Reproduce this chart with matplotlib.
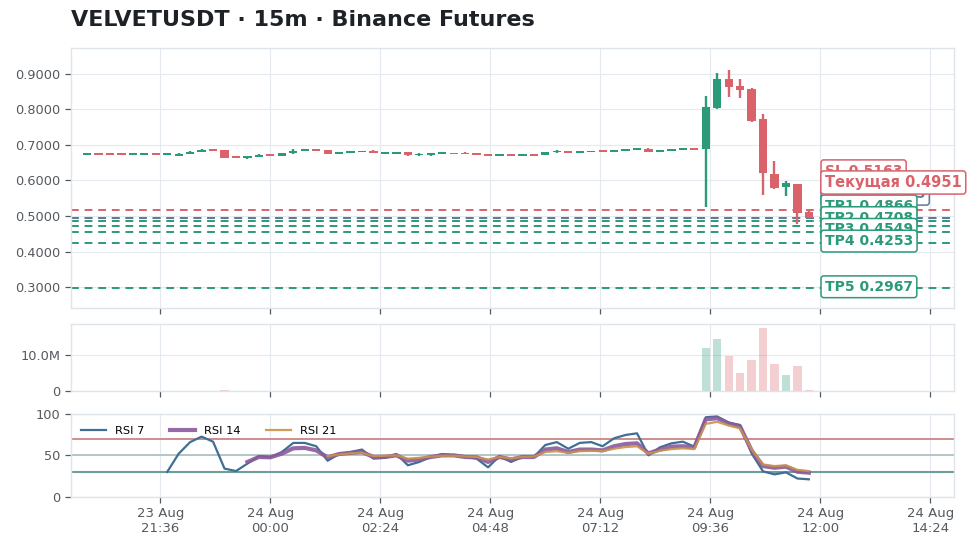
import numpy as np
import pandas as pd
import matplotlib
matplotlib.use('Agg')
import matplotlib.pyplot as plt
import matplotlib.dates as mdates
from matplotlib.ticker import FuncFormatter

# 64 candles, 15m, 23 Aug 20:00 -> 24 Aug 11:45
times = pd.date_range('2025-08-23 20:00', periods=64, freq='15min')

opens = [0.675, 0.676, 0.675, 0.674, 0.673, 0.674, 0.677, 0.673, 0.670, 0.6756,
         0.680, 0.687, 0.685, 0.667, 0.662, 0.666, 0.673, 0.670, 0.676, 0.684,
         0.686, 0.685, 0.675, 0.680, 0.681, 0.684, 0.676, 0.676, 0.680, 0.671,
         0.671, 0.676, 0.677, 0.677, 0.675, 0.673, 0.671, 0.673, 0.671, 0.673,
         0.672, 0.679, 0.683, 0.679, 0.681, 0.683, 0.681, 0.684, 0.687, 0.690,
         0.680, 0.684, 0.687, 0.690, 0.688, 0.805, 0.885, 0.866, 0.857, 0.772,
         0.618, 0.583, 0.589, 0.512]
closes = [0.676, 0.675, 0.674, 0.673, 0.674, 0.676, 0.673, 0.674, 0.6756, 0.681,
          0.686, 0.684, 0.6635, 0.664, 0.668, 0.673, 0.670, 0.676, 0.684, 0.686,
          0.685, 0.675, 0.680, 0.682, 0.682, 0.677, 0.677, 0.680, 0.671, 0.675,
          0.677, 0.677, 0.675, 0.675, 0.673, 0.671, 0.673, 0.671, 0.673, 0.672,
          0.679, 0.684, 0.679, 0.683, 0.682, 0.681, 0.685, 0.687, 0.690, 0.680,
          0.685, 0.688, 0.690, 0.688, 0.808, 0.885, 0.862, 0.855, 0.768, 0.620,
          0.578, 0.592, 0.509, 0.4951]
highs = [0.677, 0.677, 0.676, 0.675, 0.676, 0.677, 0.678, 0.676, 0.677, 0.682,
         0.690, 0.690, 0.686, 0.668, 0.669, 0.674, 0.674, 0.677, 0.688, 0.689,
         0.687, 0.686, 0.681, 0.684, 0.684, 0.686, 0.678, 0.681, 0.681, 0.676,
         0.678, 0.678, 0.678, 0.679, 0.676, 0.674, 0.674, 0.674, 0.674, 0.674,
         0.680, 0.685, 0.684, 0.684, 0.683, 0.686, 0.686, 0.688, 0.691, 0.691,
         0.686, 0.689, 0.691, 0.691, 0.838, 0.904, 0.911, 0.886, 0.860, 0.787,
         0.656, 0.599, 0.590, 0.515]
lows = [0.674, 0.674, 0.673, 0.672, 0.671, 0.673, 0.672, 0.672, 0.669, 0.675,
        0.679, 0.683, 0.663, 0.663, 0.661, 0.665, 0.669, 0.669, 0.675, 0.683,
        0.684, 0.674, 0.674, 0.679, 0.680, 0.676, 0.675, 0.675, 0.670, 0.670,
        0.670, 0.675, 0.674, 0.674, 0.672, 0.670, 0.670, 0.670, 0.670, 0.671,
        0.671, 0.678, 0.678, 0.678, 0.680, 0.680, 0.680, 0.683, 0.686, 0.679,
        0.679, 0.683, 0.686, 0.687, 0.526, 0.802, 0.836, 0.832, 0.766, 0.559,
        0.575, 0.556, 0.477, 0.493]

# volume in millions
volumes = [0.05, 0.04, 0.05, 0.03, 0.04, 0.05, 0.08, 0.04, 0.06, 0.07,
           0.10, 0.09, 0.35, 0.08, 0.06, 0.07, 0.05, 0.06, 0.09, 0.06,
           0.05, 0.05, 0.09, 0.05, 0.04, 0.06, 0.04, 0.05, 0.07, 0.05,
           0.06, 0.04, 0.04, 0.04, 0.05, 0.04, 0.04, 0.04, 0.04, 0.04,
           0.04, 0.07, 0.06, 0.05, 0.04, 0.04, 0.05, 0.05, 0.06, 0.08,
           0.06, 0.05, 0.06, 0.05, 12.0, 14.5, 9.8, 5.0, 8.6, 17.6,
           7.5, 4.4, 6.9, 0.3]

nan = np.nan
rsi7 = [nan] * 7 + [30, 52, 66, 72.6, 66.5, 34, 31, 40, 49, 47.6,
                    54, 65, 65, 61, 43.5, 51.6, 54, 57, 46, 47,
                    51.6, 38, 42, 48, 51.6, 50, 48, 46, 35.5, 49,
                    42, 48, 48, 62.5, 66, 58, 65, 66, 61, 70.6,
                    74.6, 76.6, 50, 59.7, 64.5, 66.5, 60.5, 96, 97, 89.5,
                    86.7, 52.4, 30.6, 27, 29.4, 22, 21]
rsi14 = [nan] * 14 + [42, 48, 47.6, 52, 58.5, 59, 56, 47.6, 51.6, 53,
                      54, 48, 48, 50, 43.5, 45, 48, 50, 50, 48,
                      47.6, 42, 48, 45, 48, 48, 57, 58.5, 54, 57,
                      57, 56, 61, 63.7, 64.5, 52.4, 57, 60.5, 61, 59.7,
                      93.5, 94.8, 88.7, 84.7, 56, 37, 35, 36.3, 30.2, 29]
rsi21 = [nan] * 21 + [49, 51, 52.5, 53, 49, 49.5, 50, 46, 47, 48.5,
                      49.5, 49.5, 48.5, 48, 45, 48, 46.5, 48, 48.5, 54,
                      55, 53, 55, 55.5, 55, 58, 60, 61, 52, 55.5,
                      57.5, 58.5, 57.5, 88, 90.5, 86, 82.5, 57, 39, 37,
                      38, 32.5, 31]

level_names = ['SL', 'Текущая', 'Entry', 'TP1', 'TP2', 'TP3', 'TP4', 'TP5']
level_prices = [0.5163, 0.4951, 0.4945, 0.4866, 0.4708, 0.4549, 0.4253, 0.2967]

GREEN = '#2b9a78'
RED = '#d9626b'
ENTRY = '#5b7c99'
GRID = '#e4eaef'
SPINE = '#dde4ea'
TXT = '#555a60'

level_colors = {'SL': RED, 'Текущая': RED, 'Entry': ENTRY}

fig = plt.figure(figsize=(9.71, 5.48), dpi=100)
ax_p = fig.add_axes([0.0731, 0.438, 0.9094, 0.4744])
ax_v = fig.add_axes([0.0731, 0.2865, 0.9094, 0.1223], sharex=ax_p)
ax_r = fig.add_axes([0.0731, 0.0936, 0.9094, 0.151], sharex=ax_p)

x = mdates.date2num(times.to_pydatetime())
step = 15 / (24 * 60)
up = np.array(closes) >= np.array(opens)

for ax in (ax_p, ax_v, ax_r):
    ax.set_facecolor('white')
    ax.grid(True, color=GRID, lw=0.8)
    ax.set_axisbelow(True)
    for s in ax.spines.values():
        s.set_color(SPINE)
        s.set_linewidth(1.0)
    ax.tick_params(colors=TXT, labelcolor=TXT, labelsize=9.3, length=4,
                   width=0.9)

# candles
min_body = 0.005
for xi, o, c, h, l, u in zip(x, opens, closes, highs, lows, up):
    col = GREEN if u else RED
    ax_p.vlines(xi, l, h, color=col, lw=1.7, zorder=3)
    lo, hi = min(o, c), max(o, c)
    if hi - lo < min_body:
        mid = (hi + lo) / 2
        lo, hi = mid - min_body / 2, mid + min_body / 2
    ax_p.bar(xi, hi - lo, bottom=lo, width=step * 0.72, color=col,
             zorder=4, lw=0)

# level lines and labels
for name, price in zip(level_names, level_prices):
    col = level_colors.get(name, GREEN)
    ax_p.axhline(price, color=col, lw=1.4, ls=(0, (4, 3)), zorder=2)

order = np.argsort(level_prices)
gap = 0.033
label_y = {}
prev = None
for k in order:
    y = level_prices[k]
    if prev is not None:
        y = max(y, prev + gap)
    label_y[level_names[k]] = y + 0.004
    prev = y

label_x = x[-1] + step * 1.4
draw_order = ['SL', 'Entry', 'TP1', 'TP2', 'TP3', 'TP4', 'TP5', 'Текущая']
for z, name in enumerate(draw_order):
    price = level_prices[level_names.index(name)]
    col = level_colors.get(name, GREEN)
    fs = 10.5 if name == 'Текущая' else 10
    ax_p.text(label_x, label_y[name], f'{name} {price:.4f}', color=col,
              fontsize=fs, fontweight='bold', ha='left', va='center',
              zorder=10 + z,
              bbox=dict(boxstyle='round,pad=0.28,rounding_size=0.2',
                        fc='white', ec=col, lw=1.1))

ax_p.set_ylim(0.241, 0.973)
ax_p.set_yticks(np.arange(0.3, 0.95, 0.1))
ax_p.yaxis.set_major_formatter(FuncFormatter(lambda v, p: f'{v:.4f}'))

# volume
vcols = [GREEN if u else RED for u in up]
ax_v.bar(x, np.array(volumes) * 1e6, width=step * 0.72, color=vcols,
         alpha=0.3, lw=0)
ax_v.set_ylim(0, 18.6e6)
ax_v.set_yticks([0, 10e6])
ax_v.yaxis.set_major_formatter(
    FuncFormatter(lambda v, p: '0' if v == 0 else f'{v / 1e6:.1f}M'))

# RSI
ax_r.axhline(70, color='#c98684', lw=1.3, zorder=1)
ax_r.axhline(50, color='#a9bec0', lw=1.2, zorder=1)
ax_r.axhline(30, color='#6e9e98', lw=1.5, zorder=1)
ax_r.plot(x, rsi7, color='#3f6f95', lw=1.6, label='RSI 7', zorder=3)
ax_r.plot(x, rsi14, color='#8a5a9c', lw=3.0, alpha=0.9, label='RSI 14',
          zorder=4)
ax_r.plot(x, rsi21, color='#c9924b', lw=1.6, alpha=0.9, label='RSI 21',
          zorder=5)
ax_r.set_ylim(0, 100)
ax_r.set_yticks([0, 50, 100])
ax_r.legend(loc='upper left', ncol=3, frameon=False, fontsize=8.2,
            bbox_to_anchor=(0.0, 0.98), columnspacing=2.2, handlelength=2.2)

# x axis
ticks = pd.date_range('2025-08-23 21:36', periods=8, freq='144min')
ax_r.set_xticks(mdates.date2num(ticks.to_pydatetime()))
ax_r.xaxis.set_major_formatter(mdates.DateFormatter('%d %b\n%H:%M'))
ax_r.set_xlim(mdates.date2num(pd.Timestamp('2025-08-23 19:39')),
              mdates.date2num(pd.Timestamp('2025-08-24 14:55')))
ax_r.tick_params(axis='x', labelsize=9.5)
plt.setp(ax_p.get_xticklabels(), visible=False)
plt.setp(ax_v.get_xticklabels(), visible=False)

fig.text(0.073, 0.9635, 'VELVETUSDT · 15m · Binance Futures', fontsize=16,
         fontweight='bold', color='#1e2226', ha='left', va='center')

fig.savefig('out.png', dpi=100, facecolor='white')
